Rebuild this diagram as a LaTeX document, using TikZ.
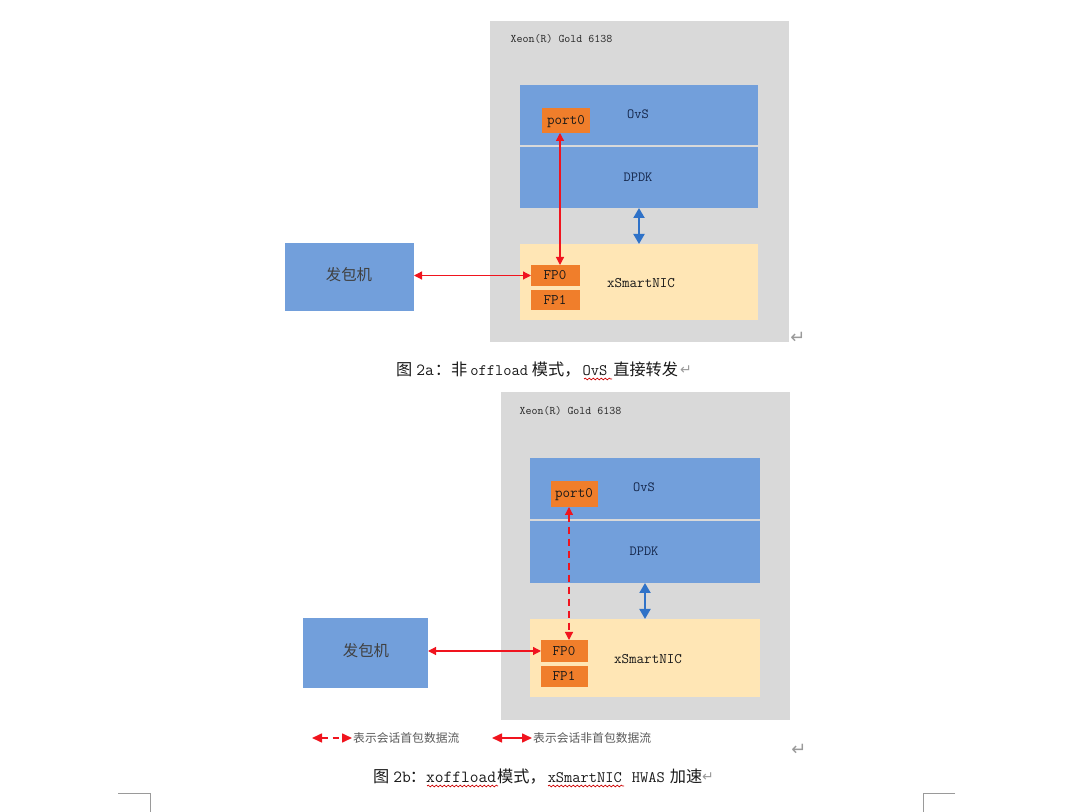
\documentclass[tikz,border=0pt]{standalone}
\usepackage{fontspec}
\renewcommand{\familydefault}{\ttdefault}
\newfontfamily\cjk{Noto Sans CJK SC}
\newfontfamily\dejavu{DejaVu Sans}
\usetikzlibrary{arrows.meta,decorations.pathmorphing}
\definecolor{graybg}{HTML}{D9D9D9}
\definecolor{bluebox}{HTML}{729FDB}
\definecolor{yellowbox}{HTML}{FFE6B5}
\definecolor{orangebox}{HTML}{F07E2B}
\definecolor{navytext}{HTML}{14264A}
\definecolor{arrowblue}{HTML}{2F72C8}
\definecolor{marker}{HTML}{9A9A9A}
\definecolor{flowred}{HTML}{F0141E}
\newcommand{\bx}[7][]{%
  \pgfmathsetmacro{\bw}{#5-#3}\pgfmathsetmacro{\bh}{#6-#4}%
  \pgfmathsetmacro{\cxx}{(#5+#3)/2}\pgfmathsetmacro{\cyy}{812-(#6+#4)/2}%
  \node[#2,minimum width=\bw pt,minimum height=\bh pt,#1] (#7) at (\cxx,\cyy) {};}
\newcommand{\txt}[5][]{\node[#2,#1] (#3) at (#4,812-#5)}
\newcommand{\zh}[1]{{\cjk\fontsize{16.2}{16}\selectfont #1}}
\newcommand{\lat}[1]{{\fontsize{17}{16}\selectfont #1}}
\newcommand{\gap}[1]{\hspace{#1pt}}
\tikzset{
  x=1pt,y=1pt,
  boxbase/.style={inner sep=0pt,outer sep=0pt,draw=none,rectangle},
  graypanel/.style={boxbase,fill=graybg},
  bluepanel/.style={boxbase,fill=bluebox},
  yellowpanel/.style={boxbase,fill=yellowbox},
  orangepanel/.style={boxbase,fill=orangebox},
  labeltxt/.style={inner sep=0pt,font=\fontsize{14.6}{14}\selectfont,text=black!90},
  bluetxt/.style={inner sep=0pt,font=\fontsize{14}{14}\selectfont,text=navytext},
  smalltxt/.style={inner sep=0pt,font=\fontsize{11.6}{12}\selectfont,text=black!85},
  captiontxt/.style={inner sep=0pt,anchor=west,font=\fontsize{16}{16}\selectfont,text=black!90},
  legendtxt/.style={inner sep=0pt,anchor=west,font=\fontsize{11.8}{14}\selectfont\cjk,text=black!65},
  hosttxt/.style={inner sep=0pt,font=\fontsize{15.4}{16}\selectfont\cjk,text=black!75},
  retmark/.style={inner sep=0pt,font=\fontsize{18}{18}\selectfont\dejavu,text=marker},
  capret/.style={inner sep=0pt,font=\fontsize{14}{14}\selectfont\dejavu,text=marker},
  redflow/.style={draw=flowred,line width=1.2pt,{Triangle[length=8pt,width=8pt]}-{Triangle[length=8pt,width=8pt]}},
  reddash/.style={redflow,dash pattern=on 7pt off 5pt},
  keysolid/.style={draw=flowred,line width=1.6pt,{Triangle[length=10pt,width=9pt]}-{Triangle[length=10pt,width=9pt]}},
  keydash/.style={keysolid,dash pattern=on 6pt off 5pt},
  blueflow/.style={draw=arrowblue,line width=2pt,{Triangle[length=10pt,width=11pt]}-{Triangle[length=10pt,width=11pt]}},
  squiggle/.style={draw=red!80!black,line width=0.7pt,decorate,decoration={snake,amplitude=0.9pt,segment length=4pt}},
  cropline/.style={draw=marker,line width=1pt}
}
\begin{document}
\begin{tikzpicture}
\useasboundingbox (0,0) rectangle (1072,812);
% panel a
\bx{graypanel}{490}{21}{789}{342}{graya}
\bx{bluepanel}{520}{85}{758}{145}{ovsa}
\bx{bluepanel}{520}{147}{758}{208}{dpdka}
\bx{yellowpanel}{520}{244}{758}{320}{nica}
\bx{orangepanel}{542}{108}{590}{133}{porta}
\bx{orangepanel}{531}{265}{580}{286}{fpza}
\bx{orangepanel}{531}{290}{580}{310}{fpoa}
\bx{bluepanel}{285}{243}{414}{311}{hosta}
\txt{smalltxt}{xeona}{561.5}{39} {Xeon(R) Gold 6138};
\txt{bluetxt}{ovsta}{638}{114} {OvS};
\txt{bluetxt}{dpdkta}{638}{177} {DPDK};
\txt{labeltxt}{portta}{566}{121.5} {port0};
\txt{labeltxt}{fpzta}{555}{275} {FP0};
\txt{labeltxt}{fpota}{555}{300} {FP1};
\txt{labeltxt}{nicta}{641}{283} {xSmartNIC};
\txt{hosttxt}{hostta}{349}{275} {发包机};
\coordinate (xa) at (560,0);
\draw[redflow] (porta.south -| xa) -- (fpza.north -| xa);
\draw[redflow] (hosta.east |- fpza.west) -- (fpza.west);
\draw[blueflow] (dpdka.south) -- (nica.north);
\txt{retmark}{reta}{798}{338} {↵};
\txt{captiontxt}{capa}{396}{370} {\zh{图}\gap{4}\lat{2a}\gap{1}\zh{：非}\gap{3}offload\gap{4}\zh{模式，}\gap{2}OvS\gap{6}\zh{直接转发}};
\txt{capret}{retca}{686}{370} {↵};
\coordinate (sqa1) at (584,812-379);
\coordinate (sqa2) at (612,812-379);
\draw[squiggle] (sqa1) -- (sqa2);
% panel b
\bx{graypanel}{501}{392}{790}{720}{grayb}
\bx{bluepanel}{530}{458}{760}{519}{ovsb}
\bx{bluepanel}{530}{521}{760}{583}{dpdkb}
\bx{yellowpanel}{530}{619}{760}{697}{nicb}
\bx{orangepanel}{551}{481}{598}{507}{portb}
\bx{orangepanel}{541}{640}{588}{662}{fpzb}
\bx{orangepanel}{541}{666}{588}{687}{fpob}
\bx{bluepanel}{303}{618}{428}{688}{hostb}
\txt{smalltxt}{xeonb}{570.5}{411} {Xeon(R) Gold 6138};
\txt{bluetxt}{ovstb}{644}{487} {OvS};
\txt{bluetxt}{dpdktb}{644}{551} {DPDK};
\txt{labeltxt}{porttb}{574}{495} {port0};
\txt{labeltxt}{fpztb}{564}{651} {FP0};
\txt{labeltxt}{fpotb}{564}{676} {FP1};
\txt{labeltxt}{nictb}{648}{659} {xSmartNIC};
\txt{hosttxt}{hosttb}{366}{651} {发包机};
\coordinate (xb) at (569,0);
\draw[reddash] (portb.south -| xb) -- (fpzb.north -| xb);
\draw[redflow] (hostb.east |- fpzb.west) -- (fpzb.west);
\draw[blueflow] (dpdkb.south) -- (nicb.north);
% legend
\coordinate (la1) at (312,812-738);
\coordinate (la2) at (352,812-738);
\coordinate (lb1) at (492,812-738);
\coordinate (lb2) at (532,812-738);
\draw[keydash] (la1) -- (la2);
\draw[keysolid] (lb1) -- (lb2);
\txt{legendtxt}{lta}{353}{738} {表示会话首包数据流};
\txt{legendtxt}{ltb}{533}{738} {表示会话非首包数据流};
\txt{retmark}{retb}{799}{750} {↵};
\txt{captiontxt}{capb}{373}{777} {\zh{图}\gap{4}\lat{2b}\gap{-1}\zh{：}\lat{xoffload}\gap{1}\zh{模式，}\gap{2}xSmartNIC\gap{10}HWAS\gap{5}\zh{加速}};
\txt{capret}{retcb}{708}{777} {↵};
\coordinate (sqb1) at (427,812-786);
\coordinate (sqb2) at (498,812-786);
\coordinate (sqb3) at (548,812-786);
\coordinate (sqb4) at (624,812-786);
\draw[squiggle] (sqb1) -- (sqb2);
\draw[squiggle] (sqb3) -- (sqb4);
% page corner marks
\coordinate (cl1) at (118,812-794);
\coordinate (cl2) at (150,812-794);
\coordinate (cl3) at (150,0);
\coordinate (cr1) at (955,812-794);
\coordinate (cr2) at (923,812-794);
\coordinate (cr3) at (923,0);
\draw[cropline] (cl1) -- (cl2) -- (cl3);
\draw[cropline] (cr1) -- (cr2) -- (cr3);
\end{tikzpicture}
\end{document}
